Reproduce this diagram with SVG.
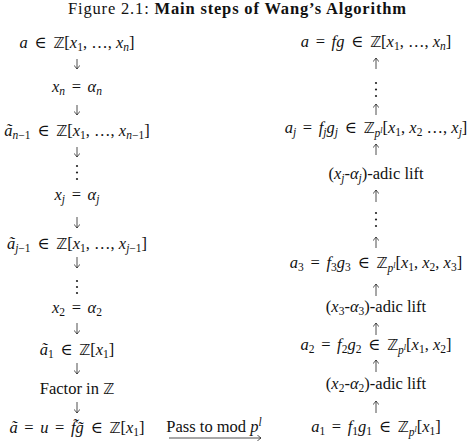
<svg xmlns="http://www.w3.org/2000/svg" width="474" height="443" viewBox="0 0 474 443">
<style>
text{font-family:'Liberation Serif','Times New Roman','Tinos','DejaVu Serif',serif}
.t{font-size:16.5px;fill:#111;text-anchor:middle}
.i{font-style:italic}
.o{word-spacing:2.5px}
.s{font-size:11.5px}
.ss{font-size:8px}
.bb{font-family:'DejaVu Sans',sans-serif;font-size:15px;font-style:normal}
.title{font-size:16.5px;fill:#111}
.b{font-weight:bold}
.c line{stroke:#222;stroke-width:0.8;fill:none}
.d circle{fill:#222}
</style>
<defs>
<marker id="ah" markerUnits="userSpaceOnUse" markerWidth="8" markerHeight="8" refX="6" refY="4" orient="auto">
<path d="M2.5,1 Q4.5,3.3 6,4 Q4.5,4.7 2.5,7" fill="none" stroke="#222" stroke-width="0.8"/>
</marker>
</defs>
<rect width="474" height="443" fill="#fff"/>
<text id="title" class="title" x="68" y="14" textLength="338" lengthAdjust="spacing">Figure 2.1: <tspan class="b">Main steps of Wang’s Algorithm</tspan></text>

<g id="L1"><text class="t" x="77" y="48"><tspan class="i">a</tspan><tspan class="o"> ∈ </tspan><tspan class="bb">ℤ</tspan>[<tspan class="i">x</tspan><tspan class="s" dy="3">1</tspan><tspan dy="-3">, …, </tspan><tspan class="i">x</tspan><tspan class="s i" dy="3">n</tspan><tspan dy="-3">]</tspan></text></g>
<g id="L2"><text class="t" x="77" y="92"><tspan class="i">x</tspan><tspan class="s i" dy="3">n</tspan><tspan class="o" dy="-3"> = </tspan><tspan class="i">α</tspan><tspan class="s i" dy="3">n</tspan></text></g>
<g id="L3"><text class="t" x="77" y="136"><tspan class="i">ã</tspan><tspan class="s" dy="3"><tspan class="i">n</tspan>−1</tspan><tspan class="o" dy="-3"> ∈ </tspan><tspan class="bb">ℤ</tspan>[<tspan class="i">x</tspan><tspan class="s" dy="3">1</tspan><tspan dy="-3">, …, </tspan><tspan class="i">x</tspan><tspan class="s" dy="3"><tspan class="i">n</tspan>−1</tspan><tspan dy="-3">]</tspan></text></g>
<g id="L4"><text class="t" x="77" y="200"><tspan class="i">x</tspan><tspan class="s i" dy="3">j</tspan><tspan class="o" dy="-3"> = </tspan><tspan class="i">α</tspan><tspan class="s i" dy="3">j</tspan></text></g>
<g id="L5"><text class="t" x="77" y="249"><tspan class="i">ã</tspan><tspan class="s" dy="3"><tspan class="i">j</tspan>−1</tspan><tspan class="o" dy="-3"> ∈ </tspan><tspan class="bb">ℤ</tspan>[<tspan class="i">x</tspan><tspan class="s" dy="3">1</tspan><tspan dy="-3">, …, </tspan><tspan class="i">x</tspan><tspan class="s" dy="3"><tspan class="i">j</tspan>−1</tspan><tspan dy="-3">]</tspan></text></g>
<g id="L6"><text class="t" x="77" y="313"><tspan class="i">x</tspan><tspan class="s" dy="3">2</tspan><tspan class="o" dy="-3"> = </tspan><tspan class="i">α</tspan><tspan class="s" dy="3">2</tspan></text></g>
<g id="L7"><text class="t" x="77" y="355"><tspan class="i">ã</tspan><tspan class="s" dy="3">1</tspan><tspan class="o" dy="-3"> ∈ </tspan><tspan class="bb">ℤ</tspan>[<tspan class="i">x</tspan><tspan class="s" dy="3">1</tspan><tspan dy="-3">]</tspan></text></g>
<g id="L8"><text class="t" x="77" y="394">Factor in <tspan class="bb">ℤ</tspan></text></g>
<g id="L9"><text class="t" x="77" y="433"><tspan class="i">ã</tspan><tspan class="o"> = </tspan><tspan class="i">u</tspan><tspan class="o"> = </tspan><tspan class="i">f̃g̃</tspan><tspan class="o"> ∈ </tspan><tspan class="bb">ℤ</tspan>[<tspan class="i">x</tspan><tspan class="s" dy="3">1</tspan><tspan dy="-3">]</tspan></text></g>

<g id="M"><text class="t" x="214" y="432">Pass to mod <tspan class="i">p</tspan><tspan class="s i" dy="-6">l</tspan></text></g>

<g id="R1"><text class="t" x="376" y="47"><tspan class="i">a</tspan><tspan class="o"> = </tspan><tspan class="i">fg</tspan><tspan class="o"> ∈ </tspan><tspan class="bb">ℤ</tspan>[<tspan class="i">x</tspan><tspan class="s" dy="3">1</tspan><tspan dy="-3">, …, </tspan><tspan class="i">x</tspan><tspan class="s i" dy="3">n</tspan><tspan dy="-3">]</tspan></text></g>
<g id="R2"><text class="t" x="376" y="133"><tspan class="i">a</tspan><tspan class="s i" dy="3">j</tspan><tspan class="o" dy="-3"> = </tspan><tspan class="i">f</tspan><tspan class="s i" dy="3">j</tspan><tspan class="i" dy="-3">g</tspan><tspan class="s i" dy="3">j</tspan><tspan class="o" dy="-3"> ∈ </tspan><tspan class="bb">ℤ</tspan><tspan class="s i" dy="4">p</tspan><tspan class="ss i" dy="-4">l</tspan><tspan>[</tspan><tspan class="i">x</tspan><tspan class="s" dy="3">1</tspan><tspan dy="-3">, </tspan><tspan class="i">x</tspan><tspan class="s" dy="3">2</tspan><tspan dy="-3"> …, </tspan><tspan class="i">x</tspan><tspan class="s i" dy="3">j</tspan><tspan dy="-3">]</tspan></text></g>
<g id="R3"><text class="t" x="376" y="179">(<tspan class="i">x</tspan><tspan class="s i" dy="3">j</tspan><tspan dy="-3">-</tspan><tspan class="i">α</tspan><tspan class="s i" dy="3">j</tspan><tspan dy="-3">)-adic lift</tspan></text></g>
<g id="R4"><text class="t" x="376" y="268"><tspan class="i">a</tspan><tspan class="s" dy="3">3</tspan><tspan class="o" dy="-3"> = </tspan><tspan class="i">f</tspan><tspan class="s" dy="3">3</tspan><tspan class="i" dy="-3">g</tspan><tspan class="s" dy="3">3</tspan><tspan class="o" dy="-3"> ∈ </tspan><tspan class="bb">ℤ</tspan><tspan class="s i" dy="4">p</tspan><tspan class="ss i" dy="-4">l</tspan><tspan>[</tspan><tspan class="i">x</tspan><tspan class="s" dy="3">1</tspan><tspan dy="-3">, </tspan><tspan class="i">x</tspan><tspan class="s" dy="3">2</tspan><tspan dy="-3">, </tspan><tspan class="i">x</tspan><tspan class="s" dy="3">3</tspan><tspan dy="-3">]</tspan></text></g>
<g id="R5"><text class="t" x="376" y="312">(<tspan class="i">x</tspan><tspan class="s" dy="3">3</tspan><tspan dy="-3">-</tspan><tspan class="i">α</tspan><tspan class="s" dy="3">3</tspan><tspan dy="-3">)-adic lift</tspan></text></g>
<g id="R6"><text class="t" x="376" y="350"><tspan class="i">a</tspan><tspan class="s" dy="3">2</tspan><tspan class="o" dy="-3"> = </tspan><tspan class="i">f</tspan><tspan class="s" dy="3">2</tspan><tspan class="i" dy="-3">g</tspan><tspan class="s" dy="3">2</tspan><tspan class="o" dy="-3"> ∈ </tspan><tspan class="bb">ℤ</tspan><tspan class="s i" dy="4">p</tspan><tspan class="ss i" dy="-4">l</tspan><tspan>[</tspan><tspan class="i">x</tspan><tspan class="s" dy="3">1</tspan><tspan dy="-3">, </tspan><tspan class="i">x</tspan><tspan class="s" dy="3">2</tspan><tspan dy="-3">]</tspan></text></g>
<g id="R7"><text class="t" x="376" y="389">(<tspan class="i">x</tspan><tspan class="s" dy="3">2</tspan><tspan dy="-3">-</tspan><tspan class="i">α</tspan><tspan class="s" dy="3">2</tspan><tspan dy="-3">)-adic lift</tspan></text></g>
<g id="R8"><text class="t" x="376" y="432"><tspan class="i">a</tspan><tspan class="s" dy="3">1</tspan><tspan class="o" dy="-3"> = </tspan><tspan class="i">f</tspan><tspan class="s" dy="3">1</tspan><tspan class="i" dy="-3">g</tspan><tspan class="s" dy="3">1</tspan><tspan class="o" dy="-3"> ∈ </tspan><tspan class="bb">ℤ</tspan><tspan class="s i" dy="4">p</tspan><tspan class="ss i" dy="-4">l</tspan><tspan>[</tspan><tspan class="i">x</tspan><tspan class="s" dy="3">1</tspan><tspan dy="-3">]</tspan></text></g>

<g id="dots" class="d">
<circle cx="77" cy="166" r="1.1"/><circle cx="77" cy="172.5" r="1.1"/><circle cx="77" cy="179" r="1.1"/>
<circle cx="77" cy="281" r="1.1"/><circle cx="77" cy="287" r="1.1"/><circle cx="77" cy="293" r="1.1"/>
<circle cx="376" cy="83" r="1.1"/><circle cx="376" cy="89.5" r="1.1"/><circle cx="376" cy="96" r="1.1"/>
<circle cx="376" cy="213" r="1.1"/><circle cx="376" cy="219.5" r="1.1"/><circle cx="376" cy="226" r="1.1"/>
</g>

<g id="connectors" class="c">
<line x1="77" y1="59" x2="77" y2="69" marker-end="url(#ah)"/>
<line x1="77" y1="105" x2="77" y2="115" marker-end="url(#ah)"/>
<line x1="77" y1="147" x2="77" y2="157" marker-end="url(#ah)"/>
<line x1="77" y1="217" x2="77" y2="228" marker-end="url(#ah)"/>
<line x1="77" y1="257" x2="77" y2="268" marker-end="url(#ah)"/>
<line x1="77" y1="323" x2="77" y2="334" marker-end="url(#ah)"/>
<line x1="77" y1="363" x2="77" y2="374" marker-end="url(#ah)"/>
<line x1="77" y1="402" x2="77" y2="413" marker-end="url(#ah)"/>
<line x1="376" y1="69" x2="376" y2="58" marker-end="url(#ah)"/>
<line x1="376" y1="115" x2="376" y2="104" marker-end="url(#ah)"/>
<line x1="376" y1="155" x2="376" y2="144" marker-end="url(#ah)"/>
<line x1="376" y1="202" x2="376" y2="190" marker-end="url(#ah)"/>
<line x1="376" y1="248" x2="376" y2="237" marker-end="url(#ah)"/>
<line x1="376" y1="296" x2="376" y2="284" marker-end="url(#ah)"/>
<line x1="376" y1="335" x2="376" y2="323" marker-end="url(#ah)"/>
<line x1="376" y1="372" x2="376" y2="360" marker-end="url(#ah)"/>
<line x1="376" y1="413" x2="376" y2="401" marker-end="url(#ah)"/>
<line x1="169" y1="438" x2="261" y2="438" marker-end="url(#ah)"/>
</g>
</svg>
